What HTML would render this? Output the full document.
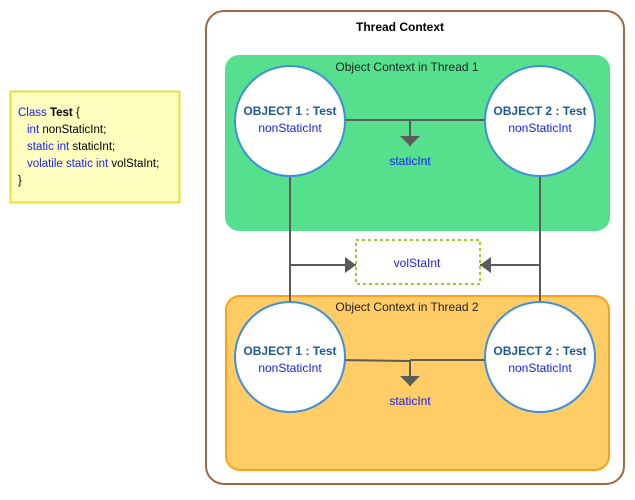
<!DOCTYPE html>
<html><head><style>
body{margin:0;background:#fff;}
svg text{font-family:"Liberation Sans",Arial,sans-serif;}
</style></head><body>
<svg width="635" height="495" viewBox="0 0 635 495" xmlns="http://www.w3.org/2000/svg">
<defs>
<marker id="a" markerWidth="14" markerHeight="16" refX="11" refY="8" orient="auto" markerUnits="userSpaceOnUse"><path d="M0,0 L11,8 L0,16 z" fill="#5b5b5b"/></marker>
<marker id="b" markerWidth="20" markerHeight="12" refX="10" refY="10" orient="0" markerUnits="userSpaceOnUse"><path d="M0,0 L20,0 L10,10 z" fill="#5b5b5b"/></marker>
</defs>
<rect x="10.5" y="91.5" width="169" height="111" fill="#ffffc0" stroke="#e8dc40" stroke-width="2"/>
<g font-size="11.5">
<text x="18" y="116"><tspan fill="#1a1aff">Class </tspan><tspan font-weight="bold" fill="#000">Test</tspan><tspan fill="#000"> {</tspan></text>
<text x="27" y="133"><tspan fill="#1a1aff">int </tspan><tspan fill="#000">nonStaticInt;</tspan></text>
<text x="27" y="150"><tspan fill="#1a1aff">static int </tspan><tspan fill="#000">staticInt;</tspan></text>
<text x="27" y="167"><tspan fill="#1a1aff">volatile static int </tspan><tspan fill="#000">volStaInt;</tspan></text>
<text x="18" y="184" fill="#000">}</text>
</g>
<rect x="206" y="11" width="418" height="473" rx="18" fill="#fff" stroke="#9b6a45" stroke-width="2"/>
<text x="400" y="31" font-size="12" font-weight="bold" text-anchor="middle">Thread Context</text>
<rect x="225" y="55" width="385" height="176" rx="14" fill="#56e08e"/>
<text x="407" y="71" font-size="12" text-anchor="middle" fill="#222">Object Context in Thread 1</text>
<rect x="226" y="296" width="383" height="174" rx="14" fill="#ffcc66" stroke="#ff9f1a" stroke-width="2"/>
<text x="407" y="311" font-size="12" text-anchor="middle" fill="#222">Object Context in Thread 2</text>
<rect x="356" y="240" width="124" height="44" fill="#fff" stroke="#9acd32" stroke-width="2" stroke-dasharray="3,3"/>
<text x="417" y="267" font-size="12" text-anchor="middle" fill="#1a1aff">volStaInt</text>
<g stroke="#5b5b5b" stroke-width="2" fill="none">
<line x1="290" y1="170" x2="290" y2="305"/>
<line x1="540" y1="170" x2="540" y2="305"/>
<line x1="290" y1="265" x2="356" y2="265" marker-end="url(#a)"/>
<line x1="540" y1="265" x2="480" y2="265" marker-end="url(#a)"/>
<line x1="340" y1="120" x2="490" y2="120"/>
<line x1="410" y1="120" x2="410" y2="146" marker-end="url(#b)"/>
<line x1="340" y1="360" x2="410" y2="361"/>
<line x1="410" y1="360" x2="490" y2="360"/>
<line x1="410" y1="360" x2="410" y2="386" marker-end="url(#b)"/>
</g>
<g fill="#fff" stroke="#3f8fdc" stroke-width="2">
<circle cx="290" cy="121" r="55"/>
<circle cx="540" cy="121" r="55"/>
<circle cx="290" cy="357" r="55"/>
<circle cx="540" cy="357" r="55"/>
</g>
<g font-size="12" text-anchor="middle">
<text x="290" y="115" font-weight="bold" fill="#1f5a8c">OBJECT 1 : Test</text>
<text x="290" y="132" fill="#1a1aff">nonStaticInt</text>
<text x="540" y="115" font-weight="bold" fill="#1f5a8c">OBJECT 2 : Test</text>
<text x="540" y="132" fill="#1a1aff">nonStaticInt</text>
<text x="290" y="355" font-weight="bold" fill="#1f5a8c">OBJECT 1 : Test</text>
<text x="290" y="372" fill="#1a1aff">nonStaticInt</text>
<text x="540" y="355" font-weight="bold" fill="#1f5a8c">OBJECT 2 : Test</text>
<text x="540" y="372" fill="#1a1aff">nonStaticInt</text>
<text x="410" y="165" fill="#1a1aff">staticInt</text>
<text x="410" y="405" fill="#1a1aff">staticInt</text>
</g>
</svg>
</body></html>
